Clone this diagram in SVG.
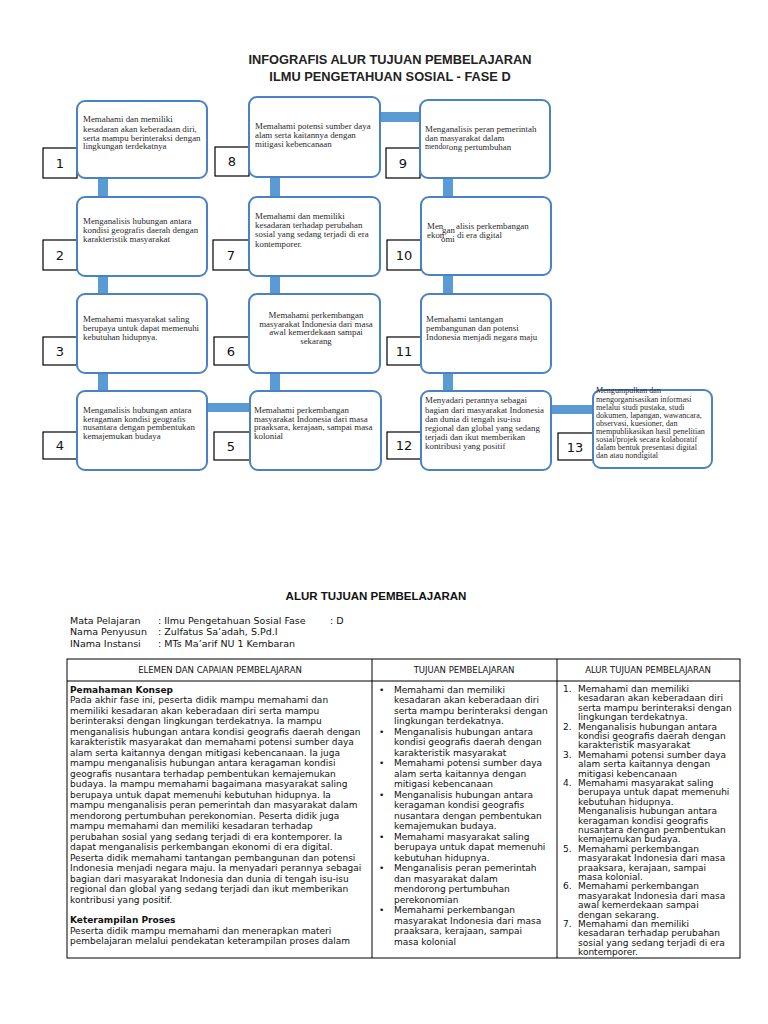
<svg xmlns="http://www.w3.org/2000/svg" width="768" height="1024" viewBox="0 0 768 1024">
<style>
.title{font-family:"Liberation Sans",Arial,sans-serif;font-weight:bold;font-size:12.8px;fill:#222;text-anchor:middle}
.box{fill:#fff;stroke:#4a82c4;stroke-width:2}
.num{fill:#fff;stroke:#000;stroke-width:1.2}
.numt{font-family:"DejaVu Sans",sans-serif;font-size:13px;fill:#111;text-anchor:middle}
.bt{font-family:"Liberation Serif","Times New Roman",serif;font-size:8.9px;fill:#2b2b2b}
.bs{font-family:"Liberation Serif","Times New Roman",serif;font-size:8.1px;fill:#2b2b2b}
.bar{fill:#5b9bd5}
.h2{font-family:"Liberation Sans",Arial,sans-serif;font-weight:bold;font-size:11.5px;fill:#111;text-anchor:middle}
.info{font-family:"DejaVu Sans",sans-serif;font-size:9.5px;fill:#111}
.th{font-family:"DejaVu Sans",sans-serif;font-size:8.5px;fill:#111;text-anchor:middle}
.td{font-family:"DejaVu Sans",sans-serif;font-size:9px;fill:#111}
.tdb{font-family:"DejaVu Sans",sans-serif;font-size:9px;fill:#111;font-weight:bold}
.tline{stroke:#000;stroke-width:1;fill:none}
</style>

<text class="title" x="390" y="64">INFOGRAFIS ALUR TUJUAN PEMBELAJARAN</text>
<text class="title" x="390" y="81">ILMU PENGETAHUAN SOSIAL - FASE D</text>

<g id="connectors">
<rect class="bar" x="98" y="177" width="10" height="21"/>
<rect class="bar" x="98" y="275" width="10" height="20"/>
<rect class="bar" x="98" y="372" width="10" height="20"/>
<rect class="bar" x="206" y="403" width="45" height="9"/>
<rect class="bar" x="270" y="372" width="10" height="20"/>
<rect class="bar" x="270" y="275" width="10" height="23"/>
<rect class="bar" x="270" y="176" width="10" height="22"/>
<rect class="bar" x="379" y="112" width="42" height="10"/>
<rect class="bar" x="443" y="177" width="10" height="21"/>
<rect class="bar" x="443" y="274" width="10" height="21"/>
<rect class="bar" x="443" y="372" width="10" height="20"/>
<rect class="bar" x="550" y="405" width="44" height="9"/>
</g>

<g id="node1">
<rect class="num" x="43" y="148" width="34" height="30"/>
<text class="numt" x="60" y="168">1</text>
<rect class="box" x="77" y="101" width="130" height="77" rx="8"/>
<text class="bt" x="83" y="122">Memahami dan memiliki</text>
<text class="bt" x="83" y="131.5">kesadaran akan keberadaan diri,</text>
<text class="bt" x="83" y="140.5">serta mampu berinteraksi dengan</text>
<text class="bt" x="83" y="149">lingkungan terdekatnya</text>
</g>

<g id="node2">
<rect class="num" x="43" y="240" width="34" height="30"/>
<text class="numt" x="60" y="260">2</text>
<rect class="box" x="77" y="197" width="130" height="79" rx="8"/>
<text class="bt" x="83" y="224">Menganalisis hubungan antara</text>
<text class="bt" x="83" y="233">kondisi geografis daerah dengan</text>
<text class="bt" x="83" y="242">karakteristik masyarakat</text>
</g>

<g id="node3">
<rect class="num" x="43" y="337" width="34" height="28"/>
<text class="numt" x="60" y="356">3</text>
<rect class="box" x="77" y="294" width="130" height="79" rx="8"/>
<text class="bt" x="83" y="322">Memahami masyarakat saling</text>
<text class="bt" x="83" y="331">berupaya untuk dapat memenuhi</text>
<text class="bt" x="83" y="339.5">kebutuhan hidupnya.</text>
</g>

<g id="node4">
<rect class="num" x="43" y="432" width="34" height="27"/>
<text class="numt" x="60" y="450">4</text>
<rect class="box" x="77" y="391" width="130" height="79" rx="8"/>
<text class="bt" x="83" y="412.5">Menganalisis hubungan antara</text>
<text class="bt" x="83" y="421.5">keragaman kondisi geografis</text>
<text class="bt" x="83" y="430">nusantara dengan pembentukan</text>
<text class="bt" x="83" y="439">kemajemukan budaya</text>
</g>

<g id="node5">
<rect class="num" x="214" y="432" width="36" height="28"/>
<text class="numt" x="231" y="451">5</text>
<rect class="box" x="250" y="391" width="131" height="79" rx="8"/>
<text class="bt" x="254" y="412.5">Memahami perkembangan</text>
<text class="bt" x="254" y="421.5">masyarakat Indonesia dari masa</text>
<text class="bt" x="254" y="430">praaksara, kerajaan, sampai masa</text>
<text class="bt" x="254" y="439">kolonial</text>
</g>

<g id="node6">
<rect class="num" x="214" y="337" width="35" height="28"/>
<text class="numt" x="231" y="356">6</text>
<rect class="box" x="249" y="294" width="131" height="79" rx="8"/>
<text class="bt" x="316" y="317.5" text-anchor="middle">Memahami perkembangan</text>
<text class="bt" x="316" y="326.5" text-anchor="middle">masyarakat Indonesia dari masa</text>
<text class="bt" x="316" y="335" text-anchor="middle">awal kemerdekaan sampai</text>
<text class="bt" x="316" y="344" text-anchor="middle">sekarang</text>
</g>

<g id="node7">
<rect class="num" x="213" y="240" width="36" height="30"/>
<text class="numt" x="231" y="260">7</text>
<rect class="box" x="249" y="197" width="131" height="79" rx="8"/>
<text class="bt" x="255" y="218.5">Memahami dan memiliki</text>
<text class="bt" x="255" y="228">kesadaran terhadap perubahan</text>
<text class="bt" x="255" y="237">sosial yang sedang terjadi di era</text>
<text class="bt" x="255" y="246.5">kontemporer.</text>
</g>

<g id="node8">
<rect class="num" x="215" y="147" width="34" height="29"/>
<text class="numt" x="232" y="166">8</text>
<rect class="box" x="249" y="97" width="131" height="80" rx="8"/>
<text class="bt" x="255" y="128.5">Memahami potensi sumber daya</text>
<text class="bt" x="255" y="138">alam serta kaitannya dengan</text>
<text class="bt" x="255" y="147">mitigasi kebencanaan</text>
</g>

<g id="node9">
<rect class="num" x="386" y="148" width="34" height="30"/>
<text class="numt" x="403" y="168">9</text>
<rect class="box" x="420" y="100" width="130" height="78" rx="8"/>
<text class="bt" x="425" y="132">Menganalisis peran pemerintah</text>
<text class="bt" x="425" y="141">dan masyarakat dalam</text>
<text class="bt" x="425" y="150"><tspan font-size="7.8px" dy="-1">mendor</tspan><tspan dy="1">ong pertumbuhan</tspan></text>
</g>

<g id="node10">
<rect class="num" x="387" y="240" width="34" height="30"/>
<text class="numt" x="404" y="260">10</text>
<rect class="box" x="421" y="197" width="130" height="78" rx="8"/>
<text class="bt" x="427" y="228.5">Men</text>
<text class="bt" x="442" y="233" font-size="7.6px">gan</text>
<text class="bt" x="456" y="228.5">alisis perkembangan</text>
<text class="bt" x="427" y="237.5">ekon</text>
<text class="bt" x="441" y="242" font-size="7.6px">omi</text>
<text class="bt" x="457" y="237.5">di era digital</text>
</g>

<g id="node11">
<rect class="num" x="387" y="337" width="34" height="28"/>
<text class="numt" x="404" y="356">11</text>
<rect class="box" x="421" y="294" width="130" height="79" rx="8"/>
<text class="bt" x="426" y="322">Memahami tantangan</text>
<text class="bt" x="426" y="331">pembangunan dan potensi</text>
<text class="bt" x="426" y="339.5">Indonesia menjadi negara maju</text>
</g>

<g id="node12">
<rect class="num" x="387" y="432" width="34" height="27"/>
<text class="numt" x="404" y="450">12</text>
<rect class="box" x="421" y="391" width="130" height="79" rx="8"/>
<text class="bt" x="425" y="403">Menyadari perannya sebagai</text>
<text class="bt" x="425" y="412.5">bagian dari masyarakat Indonesia</text>
<text class="bt" x="425" y="421.5">dan dunia di tengah isu-isu</text>
<text class="bt" x="425" y="430.5">regional dan global yang sedang</text>
<text class="bt" x="425" y="439.5">terjadi dan ikut memberikan</text>
<text class="bt" x="425" y="449">kontribusi yang positif</text>
</g>

<g id="node13">
<rect class="num" x="558" y="433" width="35" height="27"/>
<text class="numt" x="575" y="452">13</text>
<rect class="box" x="593" y="390" width="119" height="78" rx="8"/>
<text class="bs" x="596" y="393">Mengumpulkan dan</text>
<text class="bs" x="596" y="402">mengorganisasikan informasi</text>
<text class="bs" x="596" y="410">melalui studi pustaka, studi</text>
<text class="bs" x="596" y="418">dokumen, lapangan, wawancara,</text>
<text class="bs" x="596" y="426">observasi, kuesioner, dan</text>
<text class="bs" x="596" y="434">mempublikasikan hasil penelitian</text>
<text class="bs" x="596" y="442">sosial/projek secara kolaboratif</text>
<text class="bs" x="596" y="450">dalam bentuk presentasi digital</text>
<text class="bs" x="596" y="458">dan atau nondigital</text>
</g>

<text class="h2" x="376" y="600">ALUR TUJUAN PEMBELAJARAN</text>

<g id="info">
<text class="info" x="70" y="624">Mata Pelajaran</text>
<text class="info" x="158" y="624">: Ilmu Pengetahuan Sosial Fase</text>
<text class="info" x="330" y="624">: D</text>
<text class="info" x="70" y="635">Nama Penyusun</text>
<text class="info" x="158" y="635">: Zulfatus Sa’adah, S.Pd.I</text>
<text class="info" x="70" y="647">INama Instansi</text>
<text class="info" x="158" y="647">: MTs Ma’arif NU 1 Kembaran</text>
</g>

<g id="table">
<rect class="tline" x="67" y="659" width="673" height="299"/>
<line class="tline" x1="67" y1="681" x2="740" y2="681"/>
<line class="tline" x1="372" y1="659" x2="372" y2="958"/>
<line class="tline" x1="557" y1="659" x2="557" y2="958"/>
<text class="th" x="220" y="673">ELEMEN DAN CAPAIAN PEMBELAJARAN</text>
<text class="th" x="464" y="673">TUJUAN  PEMBELAJARAN</text>
<text class="th" x="648" y="673">ALUR  TUJUAN  PEMBELAJARAN</text>
</g>

<g id="col1">
<text class="tdb" x="70" y="692.5">Pemahaman Konsep</text>
<text class="td" x="70" y="703">Pada akhir fase ini, peserta didik mampu memahami dan</text>
<text class="td" x="70" y="713.5">memiliki kesadaran akan keberadaan diri serta mampu</text>
<text class="td" x="70" y="724">berinteraksi dengan lingkungan terdekatnya. Ia mampu</text>
<text class="td" x="70" y="734.5">menganalisis hubungan antara kondisi geografis daerah dengan</text>
<text class="td" x="70" y="745">karakteristik masyarakat dan memahami potensi sumber daya</text>
<text class="td" x="70" y="755.5">alam serta kaitannya dengan mitigasi kebencanaan. Ia juga</text>
<text class="td" x="70" y="766">mampu menganalisis hubungan antara keragaman kondisi</text>
<text class="td" x="70" y="776.5">geografis nusantara terhadap pembentukan kemajemukan</text>
<text class="td" x="70" y="787">budaya. Ia mampu memahami bagaimana masyarakat saling</text>
<text class="td" x="70" y="797.5">berupaya untuk dapat memenuhi kebutuhan hidupnya. Ia</text>
<text class="td" x="70" y="808">mampu menganalisis peran pemerintah dan masyarakat dalam</text>
<text class="td" x="70" y="818.5">mendorong pertumbuhan perekonomian. Peserta didik juga</text>
<text class="td" x="70" y="829">mampu memahami dan memiliki kesadaran terhadap</text>
<text class="td" x="70" y="839.5">perubahan sosial yang sedang terjadi di era kontemporer. Ia</text>
<text class="td" x="70" y="850">dapat menganalisis perkembangan ekonomi di era digital.</text>
<text class="td" x="70" y="860.5">Peserta didik memahami tantangan pembangunan dan potensi</text>
<text class="td" x="70" y="871">Indonesia menjadi negara maju. Ia menyadari perannya sebagai</text>
<text class="td" x="70" y="881.5">bagian dari masyarakat Indonesia dan dunia di tengah isu-isu</text>
<text class="td" x="70" y="892">regional dan global yang sedang terjadi dan ikut memberikan</text>
<text class="td" x="70" y="902.5">kontribusi yang positif.</text>
<text class="tdb" x="70" y="923">Keterampilan Proses</text>
<text class="td" x="70" y="933.5">Peserta didik mampu memahami dan menerapkan materi</text>
<text class="td" x="70" y="944">pembelajaran  melalui  pendekatan  keterampilan  proses  dalam</text>
</g>

<g id="col2">
<text class="td" x="379" y="692.5">•</text><text class="td" x="394" y="692.5">Memahami dan memiliki</text>
<text class="td" x="394" y="703">kesadaran akan keberadaan diri</text>
<text class="td" x="394" y="713.5">serta mampu berinteraksi dengan</text>
<text class="td" x="394" y="724">lingkungan terdekatnya.</text>
<text class="td" x="379" y="734.5">•</text><text class="td" x="394" y="734.5">Menganalisis hubungan antara</text>
<text class="td" x="394" y="745">kondisi geografis daerah dengan</text>
<text class="td" x="394" y="755.5">karakteristik masyarakat</text>
<text class="td" x="379" y="766">•</text><text class="td" x="394" y="766">Memahami potensi sumber daya</text>
<text class="td" x="394" y="776.5">alam serta kaitannya dengan</text>
<text class="td" x="394" y="787">mitigasi kebencanaan</text>
<text class="td" x="379" y="797.5">•</text><text class="td" x="394" y="797.5">Menganalisis hubungan antara</text>
<text class="td" x="394" y="808">keragaman kondisi geografis</text>
<text class="td" x="394" y="818.5">nusantara dengan pembentukan</text>
<text class="td" x="394" y="829">kemajemukan budaya.</text>
<text class="td" x="379" y="839.5">•</text><text class="td" x="394" y="839.5">Memahami masyarakat saling</text>
<text class="td" x="394" y="850">berupaya  untuk  dapat  memenuhi</text>
<text class="td" x="394" y="860.5">kebutuhan hidupnya.</text>
<text class="td" x="379" y="871">•</text><text class="td" x="394" y="871">Menganalisis peran pemerintah</text>
<text class="td" x="394" y="881.5">dan masyarakat dalam</text>
<text class="td" x="394" y="892">mendorong pertumbuhan</text>
<text class="td" x="394" y="902.5">perekonomian</text>
<text class="td" x="379" y="913">•</text><text class="td" x="394" y="913">Memahami perkembangan</text>
<text class="td" x="394" y="923.5">masyarakat Indonesia dari masa</text>
<text class="td" x="394" y="934">praaksara, kerajaan, sampai</text>
<text class="td" x="394" y="944.5">masa kolonial</text>
</g>

<g id="col3">
<text class="td" x="563" y="692">1.</text><text class="td" x="578" y="692">Memahami dan memiliki</text>
<text class="td" x="578" y="701.4">kesadaran akan keberadaan diri</text>
<text class="td" x="578" y="710.8">serta mampu berinteraksi dengan</text>
<text class="td" x="578" y="720.2">lingkungan  terdekatnya.</text>
<text class="td" x="563" y="729.6">2.</text><text class="td" x="578" y="729.6">Menganalisis hubungan antara</text>
<text class="td" x="578" y="739">kondisi geografis daerah dengan</text>
<text class="td" x="578" y="748.4">karakteristik masyarakat</text>
<text class="td" x="563" y="757.8">3.</text><text class="td" x="578" y="757.8">Memahami potensi sumber daya</text>
<text class="td" x="578" y="767.2">alam serta kaitannya dengan</text>
<text class="td" x="578" y="776.6">mitigasi kebencanaan</text>
<text class="td" x="563" y="786">4.</text><text class="td" x="578" y="786">Memahami masyarakat saling</text>
<text class="td" x="578" y="795.4">berupaya  untuk  dapat  memenuhi</text>
<text class="td" x="578" y="804.8">kebutuhan hidupnya.</text>
<text class="td" x="578" y="814.2">Menganalisis hubungan antara</text>
<text class="td" x="578" y="823.6">keragaman kondisi geografis</text>
<text class="td" x="578" y="833">nusantara dengan pembentukan</text>
<text class="td" x="578" y="842.4">kemajemukan budaya.</text>
<text class="td" x="563" y="851.8">5.</text><text class="td" x="578" y="851.8">Memahami perkembangan</text>
<text class="td" x="578" y="861.2">masyarakat Indonesia dari masa</text>
<text class="td" x="578" y="870.6">praaksara, kerajaan, sampai</text>
<text class="td" x="578" y="880">masa kolonial.</text>
<text class="td" x="563" y="889.4">6.</text><text class="td" x="578" y="889.4">Memahami perkembangan</text>
<text class="td" x="578" y="898.8">masyarakat Indonesia dari masa</text>
<text class="td" x="578" y="908.2">awal kemerdekaan sampai</text>
<text class="td" x="578" y="917.6">dengan sekarang.</text>
<text class="td" x="563" y="927">7.</text><text class="td" x="578" y="927">Memahami dan memiliki</text>
<text class="td" x="578" y="936.4">kesadaran terhadap perubahan</text>
<text class="td" x="578" y="945.8">sosial yang sedang terjadi di era</text>
<text class="td" x="578" y="955.2">kontemporer.</text>
</g>
</svg>
